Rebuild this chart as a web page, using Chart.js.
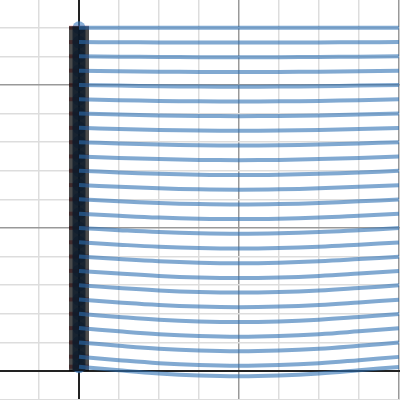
<!DOCTYPE html>
<html><head><style>html,body{margin:0;padding:0;background:#fff}#c{width:400px;height:400px}</style>
<script src="https://cdn.jsdelivr.net/npm/chart.js@4"></script></head>
<body><div id="c"><canvas id="cv" width="400" height="400"></canvas></div>
<script>
const xSamples = [0,1,2,3,4,5,6,7,8];
const profile = [0,0.38,0.71,0.92,1,0.92,0.71,0.38,0.02];
const bases = [12,11.5,11,10.5,10,9.5,9,8.5,8,7.5,7,6.5,6,5.5,5,4.5,4,3.5,3,2.5,2,1.5,1,0.5,0.15];
const dips = [0,0.02,0.03,0.05,0.06,0.08,0.09,0.1,0.12,0.13,0.15,0.16,0.18,0.19,0.2,0.22,0.23,0.25,0.26,0.27,0.29,0.3,0.31,0.32,0.33];
const xGrid = [-1,0,1,2,3,4,5,6,7,8];
const yGrid = [-1,0,1,2,3,4,5,6,7,8,9,10,11,12];
const datasets = [];
bases.forEach((b,i)=>{
  datasets.push({type:'line',data:xSamples.map((x,k)=>({x:x,y:b-dips[i]*profile[k]})),
    borderColor:'rgba(45,112,179,0.6)',borderWidth:4,pointRadius:0,tension:0.4,fill:false});
});
datasets.push({type:'line',data:[{x:0,y:0},{x:0,y:12.05}],borderColor:'rgba(0,0,0,0.7)',borderWidth:20,pointRadius:0,borderCapStyle:'butt'});
datasets.push({type:'line',data:[{x:0,y:0},{x:0,y:12.05}],borderColor:'rgba(45,90,140,0.8)',borderWidth:13,pointRadius:0,borderCapStyle:'butt'});
datasets.push({type:'scatter',data:bases.map(b=>({x:0,y:b})),pointStyle:'line',pointRadius:10,borderWidth:4,borderColor:'rgba(190,60,70,0.55)'});
datasets.push({type:'scatter',data:bases.map(b=>({x:0,y:b})),pointRadius:6.5,backgroundColor:'rgba(55,120,190,0.6)',borderWidth:0});
function gc(step){return ctx=>{const v=ctx.tick.value;if(Math.abs(v)<1e-6)return '#222';return Math.abs(v/step-Math.round(v/step))<1e-6?'#999':'#ddd';};}
function gw(ctx){return Math.abs(ctx.tick.value)<1e-6?2:1.5;}
new Chart(document.getElementById('cv'),{
  data:{datasets},
  options:{responsive:false,animation:false,layout:{padding:0,autoPadding:false},
    plugins:{legend:{display:false},tooltip:{enabled:false}},
    scales:{
      x:{type:'linear',min:-1.975,max:8.025,afterBuildTicks:s=>{s.ticks=xGrid.map(v=>({value:v}));},afterFit:s=>{s.height=0;},ticks:{display:false,padding:0},grid:{drawTicks:false,color:gc(4),lineWidth:gw},border:{display:false}},
      y:{type:'linear',min:-1.014,max:12.97,afterBuildTicks:s=>{s.ticks=yGrid.map(v=>({value:v}));},afterFit:s=>{s.width=0;},ticks:{display:false,padding:0},grid:{drawTicks:false,color:gc(5),lineWidth:gw},border:{display:false}}
    }}
});
</script></body></html>
